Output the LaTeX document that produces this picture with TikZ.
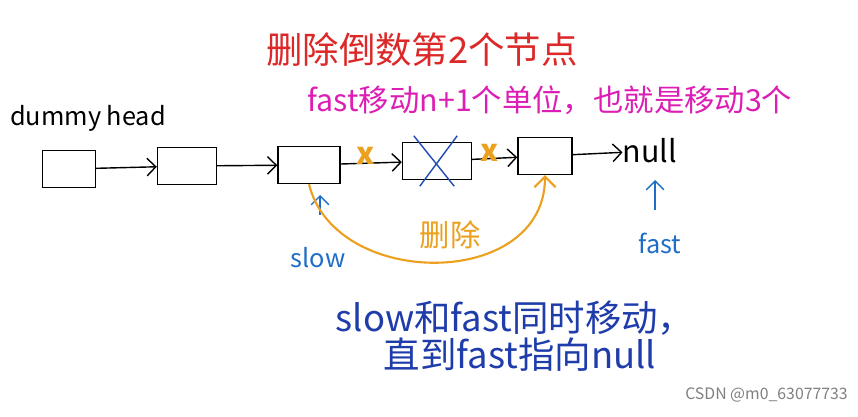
\documentclass[tikz,border=0pt]{standalone}
\usepackage{fontspec}
\newfontfamily\cjk{Noto Sans CJK SC}
\usetikzlibrary{arrows.meta,calc}
\definecolor{myblue}{RGB}{30,110,200}
\definecolor{myorange}{RGB}{235,160,30}
\definecolor{myred}{RGB}{220,40,40}
\definecolor{mymag}{RGB}{220,30,180}
\definecolor{navy}{RGB}{30,60,170}
\tikzset{box/.style={draw,thick,minimum width=1.05cm,minimum height=0.74cm,inner sep=0},
 link/.style={thick,-{Straight Barb[length=5pt]}},
 ptr/.style={myblue,thick,-{Straight Barb[length=5pt]}},
 lbl/.style={font=\cjk, inner sep=0}}
\begin{document}
\begin{tikzpicture}[x=0.02cm,y=-0.02cm]
\useasboundingbox (0,0) rectangle (858,416);
\fill[white] (0,0) rectangle (858,416);
\node[box] (b1) at (69,169) {};
\node[box,minimum width=1.18cm] (b2) at (187,166) {};
\node[box,minimum width=1.24cm] (b3) at (309,165) {};
\node[box,minimum width=1.38cm] (b4) at (437,161) {};
\node[box,minimum width=1.08cm] (b5) at (545,156) {};
\node[lbl,font=\cjk\LARGE] (nul) at (650,151) {null};
\node[lbl,font=\cjk\Large] (dh) at (88,118) {dummy head};
\draw[link] (b1) -- (b2);
\draw[link] (b2) -- (b3);
\draw[link] (b3) -- (b4);
\draw[link] (b4) -- (b5);
\draw[link] (b5) -- (nul);
\draw[navy!70!myblue,thick] ($(b4.north west)+(12,-6)$) -- ($(b4.south east)+(-18,6)$);
\draw[navy!70!myblue,thick] ($(b4.north east)+(-15,-6)$) -- ($(b4.south west)+(18,6)$);
\node[lbl,text=myorange,font=\cjk\LARGE\bfseries] (x1) at (366,156) {x};
\node[lbl,text=myorange,font=\cjk\LARGE\bfseries] (x2) at (490,153) {x};
\coordinate (s0) at (320,215);
\coordinate (s1) at (320,195);
\coordinate (f0) at (655,210);
\coordinate (f1) at (655,180);
\node[lbl,text=myblue,font=\cjk\Large] (slow) at (318,258) {slow};
\node[lbl,text=myblue,font=\cjk\Large] (fast) at (660,243) {fast};
\draw[ptr] (s0) -- (s1);
\draw[ptr] (f0) -- (f1);
\draw[myorange,very thick,-{Straight Barb[length=6pt]}] (b3.south) .. controls (335,290) and (545,290) .. (b5.south);
\node[lbl,text=myorange,font=\cjk\LARGE] (del) at (450,235) {删除};
\node[lbl,text=myred,font=\cjk\huge] (t1) at (422,50) {删除倒数第2个节点};
\node[lbl,text=mymag,font=\cjk\LARGE] (t2) at (550,100) {fast移动n+1个单位，也就是移动3个};
\node[lbl,text=navy,font=\cjk\huge] (t3) at (515,318) {slow和fast同时移动，};
\node[lbl,text=navy,font=\cjk\huge] (t4) at (520,355) {直到fast指向null};
\node[lbl,text=gray,font=\cjk\small,anchor=east] (wm) at (848,395) {CSDN @m0\_63077733};
\end{tikzpicture}
\end{document}
